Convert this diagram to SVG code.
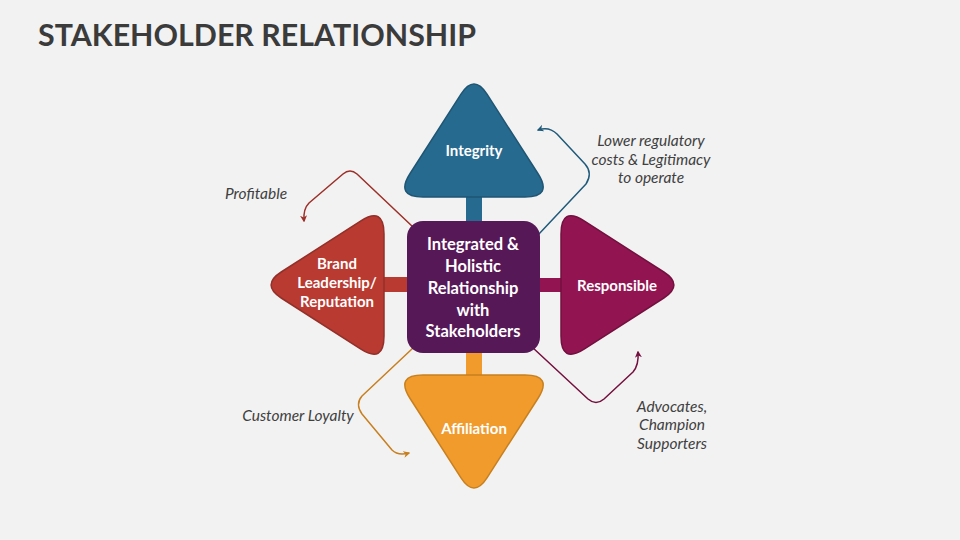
<svg xmlns="http://www.w3.org/2000/svg" width="960" height="540" viewBox="0 0 960 540">
<style>
.t{font-family:Lato,"Liberation Sans",sans-serif;font-weight:bold;fill:#fff;text-anchor:middle}
.n{font-size:15px}
.c{font-size:16.5px}
.lab{font-family:Lato,"Liberation Sans",sans-serif;font-style:italic;font-size:15.5px;fill:#404040;text-anchor:middle}
.con{fill:none;stroke-width:1.5;stroke-linejoin:round}
</style>
<defs>
<marker id="aR" viewBox="0 0 10 10" refX="8" refY="5" markerWidth="7" markerHeight="7" markerUnits="userSpaceOnUse" orient="auto"><path d="M0 0L10 5L0 10L3 5Z" fill="#9C2F28"/></marker>
<marker id="aB" viewBox="0 0 10 10" refX="8" refY="5" markerWidth="7" markerHeight="7" markerUnits="userSpaceOnUse" orient="auto"><path d="M0 0L10 5L0 10L3 5Z" fill="#1F5A7A"/></marker>
<marker id="aM" viewBox="0 0 10 10" refX="8" refY="5" markerWidth="7" markerHeight="7" markerUnits="userSpaceOnUse" orient="auto"><path d="M0 0L10 5L0 10L3 5Z" fill="#74103F"/></marker>
<marker id="aO" viewBox="0 0 10 10" refX="8" refY="5" markerWidth="7" markerHeight="7" markerUnits="userSpaceOnUse" orient="auto"><path d="M0 0L10 5L0 10L3 5Z" fill="#C87F1E"/></marker>
</defs>
<rect width="960" height="540" fill="#F2F2F2"/>
<text x="38" y="46" font-family="Lato,'Liberation Sans',sans-serif" font-weight="bold" font-size="30" fill="#3B3B3B" textLength="438" lengthAdjust="spacingAndGlyphs">STAKEHOLDER RELATIONSHIP</text>

<g id="connectors">
<path class="con" stroke="#9C2F28" d="M413 227L357 174Q350 168 343 174L309 203Q303 209 304 221" marker-end="url(#aR)"/>
<path class="con" stroke="#1F5A7A" d="M538 235L586 184Q593 173 585 164L557 134Q549 126 538 130" marker-end="url(#aB)"/>
<path class="con" stroke="#74103F" d="M532 347L588 399Q596 406 604 399L633 372Q639 365 638 352" marker-end="url(#aM)"/>
<path class="con" stroke="#C87F1E" d="M413 348L362 396Q355 404 362 414L392 450Q398 456 409 453" marker-end="url(#aO)"/>
</g>

<g id="bars">
<rect x="466" y="195" width="16" height="28" fill="#276A8F"/>
<rect x="466" y="351" width="16" height="26" fill="#F09B2B"/>
<rect x="382" y="277" width="27" height="15" fill="#B83A30"/>
<rect x="538" y="278" width="25" height="14" fill="#921552"/>
</g>

<g id="integrity">
<path d="M461 94.2Q474 74 487 94.2L537.9 173.5Q553 197 525 197L423 197Q395 197 410.1 173.5Z" fill="#276A8F" stroke="#1F5674" stroke-width="1.5"/>
<text class="t n" x="474" y="156">Integrity</text>
</g>

<g id="affiliation">
<path d="M461 477.8Q474 498 487 477.8L537.9 398.5Q553 375 525 375L423 375Q395 375 410.1 398.5Z" fill="#F09B2B" stroke="#C8801F" stroke-width="1.5"/>
<text class="t n" x="474" y="434">Affiliation</text>
</g>

<g id="brand">
<path d="M281.2 272Q261 285 281.2 298L360.5 348.9Q384 364 384 336L384 234Q384 206 360.5 221.1Z" fill="#B83A30" stroke="#93302A" stroke-width="1.5"/>
<text class="t n" x="337" y="269">Brand</text>
<text class="t n" x="337" y="288">Leadership/</text>
<text class="t n" x="337" y="307">Reputation</text>
</g>

<g id="responsible">
<path d="M663.8 272Q684 285 663.8 298L584.5 348.9Q561 364 561 336L561 234Q561 206 584.5 221.1Z" fill="#921552" stroke="#74103F" stroke-width="1.5"/>
<text class="t n" x="617" y="291">Responsible</text>
</g>

<g id="center">
<rect x="407" y="221" width="133" height="132" rx="16" fill="#571858"/>
<text class="t c" x="473" y="250">Integrated &amp;</text>
<text class="t c" x="473" y="272">Holistic</text>
<text class="t c" x="473" y="294">Relationship</text>
<text class="t c" x="473" y="316">with</text>
<text class="t c" x="473" y="337">Stakeholders</text>
</g>

<g id="labels">
<text class="lab" x="256" y="199">Profitable</text>
<text class="lab" x="651" y="146">Lower regulatory</text>
<text class="lab" x="651" y="165">costs &amp; Legitimacy</text>
<text class="lab" x="651" y="183">to operate</text>
<text class="lab" x="672" y="412">Advocates,</text>
<text class="lab" x="672" y="430">Champion</text>
<text class="lab" x="672" y="449">Supporters</text>
<text class="lab" x="298" y="421">Customer Loyalty</text>
</g>
</svg>
